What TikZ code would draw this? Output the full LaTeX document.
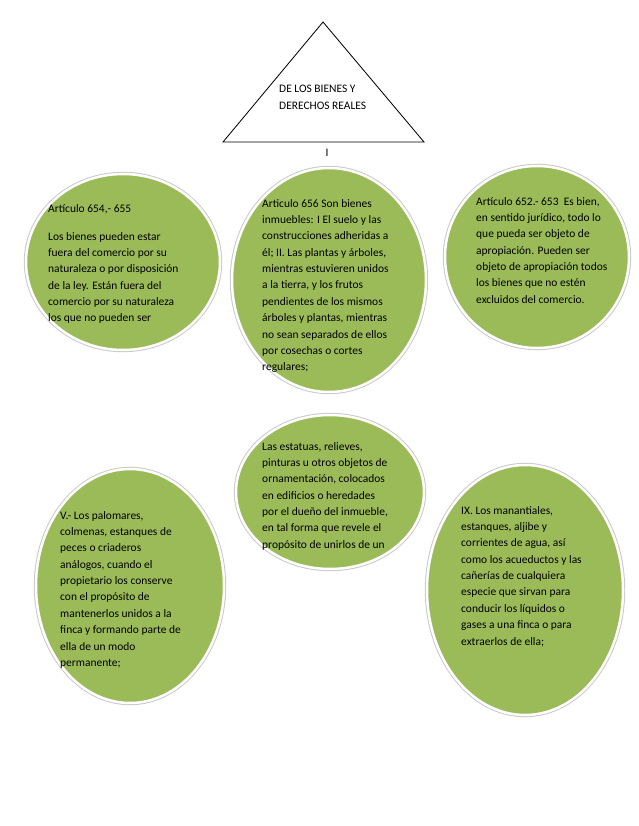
\documentclass[tikz,border=0pt]{standalone}
\usepackage{fontspec}
\setmainfont{Carlito}
\usepackage{tikz}
\usetikzlibrary{shapes.geometric,positioning}
\definecolor{leafgreen}{RGB}{155,187,89}
\def\pxu{0.9595pt}

\begin{document}
\begin{tikzpicture}[x=\pxu, y=-\pxu,
  every node/.style={font=\fontsize{11}{15.7}\selectfont},
  bubble/.style={ellipse, fill=leafgreen, draw=white, line width=2.4pt, inner sep=0pt,
    preaction={draw=black!22, line width=4.2pt}},
  txt/.style={anchor=north west, align=left, inner sep=0pt}]
\useasboundingbox (0,0) rectangle (638,826);
% title
\draw[line width=0.8pt] (323,22) -- (223,142) -- (424,142) -- cycle;
\node[txt] (title) at (279,85) {DE LOS BIENES Y\\DERECHOS REALES};
\node (mark) at (327,153) {I};
% bubbles
\node[bubble, minimum width=194*\pxu, minimum height=176*\pxu] (a654) at (123,262) {};
\node[bubble, minimum width=194*\pxu, minimum height=224*\pxu] (a656) at (329,280) {};
\node[bubble, minimum width=184*\pxu, minimum height=182*\pxu] (a652) at (537,257) {};
\node[bubble, minimum width=188*\pxu, minimum height=154*\pxu] (orna) at (330,492) {};
\node[bubble, minimum width=188*\pxu, minimum height=234*\pxu] (palo) at (130,586) {};
\node[bubble, minimum width=196*\pxu, minimum height=250*\pxu] (mana) at (525,590) {};
% texts
\node[txt] (t654) at (48,204) {Artículo 654,- 655\\[11pt]Los bienes pueden estar\\fuera del comercio por su\\naturaleza o por disposición\\de la ley. Están fuera del\\comercio por su naturaleza\\los que no pueden ser};
\node[txt] (t656) at (262,199) {Articulo 656 Son bienes\\inmuebles: I El suelo y las\\construcciones adheridas a\\él; II. Las plantas y árboles,\\mientras estuvieren unidos\\a la tierra, y los frutos\\pendientes de los mismos\\árboles y plantas, mientras\\no sean separados de ellos\\por cosechas o cortes\\regulares;};
\node[txt] (t652) at (476,197) {Artículo 652.- 653 \ Es bien,\\en sentido jurídico, todo lo\\que pueda ser objeto de\\apropiación. Pueden ser\\objeto de apropiación todos\\los bienes que no estén\\excluidos del comercio.};
\node[txt] (torna) at (262,442) {Las estatuas, relieves,\\pinturas u otros objetos de\\ornamentación, colocados\\en edificios o heredades\\por el dueño del inmueble,\\en tal forma que revele el\\propósito de unirlos de un};
\node[txt] (tpalo) at (60,511) {V.- Los palomares,\\colmenas, estanques de\\peces o criaderos\\análogos, cuando el\\propietario los conserve\\con el propósito de\\mantenerlos unidos a la\\finca y formando parte de\\ella de un modo\\permanente;};
\node[txt] (tmana) at (461,506) {IX. Los manantiales,\\estanques, aljibe y\\corrientes de agua, así\\como los acueductos y las\\cañerías de cualquiera\\especie que sirvan para\\conducir los líquidos o\\gases a una finca o para\\extraerlos de ella;};
\end{tikzpicture}
\end{document}
